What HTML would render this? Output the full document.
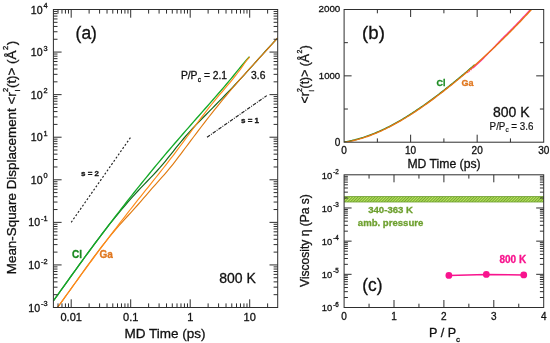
<!DOCTYPE html>
<html lang="en"><head><meta charset="utf-8"><title>MSD and viscosity</title>
<style>html,body{margin:0;padding:0;background:#fff}svg{display:block}</style></head>
<body>
<svg width="550" height="343" viewBox="0 0 550 343" font-family='&quot;Liberation Sans&quot;, Arial, sans-serif' fill="#111111">
<defs><pattern id="hatch" width="2" height="2" patternUnits="userSpaceOnUse" patternTransform="rotate(45)"><rect width="2" height="2" fill="#bbe860"/><rect width="0.85" height="2" fill="#6a9a2c"/></pattern><clipPath id="clipA"><rect x="53.4" y="9.5" width="224.3" height="298"/></clipPath><clipPath id="clipB"><rect x="344.1" y="9.5" width="199.6" height="132.7"/></clipPath></defs>
<rect width="550" height="343" fill="#ffffff"/>
<rect x="344.1" y="196.5" width="199.6" height="5.5" fill="url(#hatch)"/>
<path d="M344.1 196.5H543.7M344.1 202H543.7" stroke="#6e9e30" stroke-width="0.8" fill="none"/>
<g clip-path="url(#clipA)" fill="none" stroke-linejoin="round">
<path d="M53.3 301 L55.71 297.67 L58.11 294.35 L60.5 291.02 L62.88 287.69 L65.26 284.37 L67.63 281.04 L70.01 277.71 L72.38 274.39 L74.76 271.06 L77.14 267.73 L79.53 264.41 L81.93 261.08 L84.34 257.75 L86.76 254.43 L89.19 251.1 L91.64 247.77 L94.11 244.45 L96.6 241.12 L99.11 237.79 L101.64 234.47 L104.2 231.14 L106.79 227.82 L109.41 224.49 L112.06 221.16 L114.74 217.84 L117.45 214.51 L120.21 211.18 L123 207.86 L125.83 204.53 L128.71 201.2 L131.63 197.88 L134.61 194.55 L137.66 191.22 L140.77 187.9 L143.95 184.57 L147.17 181.24 L150.39 177.92 L153.58 174.59 L156.68 171.26 L159.66 167.94 L162.51 164.61 L165.28 161.28 L167.98 157.96 L170.63 154.63 L173.27 151.3 L175.91 147.98 L178.59 144.65 L181.31 141.32 L184.11 138 L187 134.67 L189.99 131.34 L193.07 128.02 L196.22 124.69 L199.43 121.36 L202.66 118.04 L205.92 114.71 L209.19 111.38 L212.45 108.06 L215.72 104.73 L218.98 101.41 L222.23 98.08 L225.46 94.75 L228.68 91.43 L231.86 88.1 L235.02 84.77 L238.14 81.45 L241.22 78.12 L244.26 74.79 L247.27 71.47 L250.26 68.14 L253.23 64.81 L256.2 61.49 L259.17 58.16 L262.16 54.83 L265.16 51.51 L268.18 48.18 L271.24 44.85 L274.34 41.53 L277.5 38.2" stroke="#156a1e" stroke-width="1.2"/>
<path d="M57.35 307.65 L59.87 304.24 L62.37 300.82 L64.84 297.41 L67.3 294 L69.74 290.58 L72.17 287.17 L74.59 283.76 L77.02 280.34 L79.44 276.93 L81.87 273.52 L84.31 270.1 L86.77 266.69 L89.24 263.28 L91.73 259.86 L94.26 256.45 L96.81 253.04 L99.4 249.62 L102.02 246.21 L104.69 242.8 L107.41 239.38 L110.18 235.97 L113.01 232.56 L115.92 229.14 L118.91 225.73 L121.97 222.32 L125.07 218.9 L128.18 215.49 L131.3 212.08 L134.39 208.66 L137.44 205.25 L140.43 201.84 L143.38 198.42 L146.3 195.01 L149.24 191.6 L152.2 188.18 L155.22 184.77 L158.28 181.36 L161.34 177.94 L164.36 174.53 L167.31 171.12 L170.16 167.71 L172.9 164.29 L175.57 160.88 L178.17 157.47 L180.73 154.05 L183.29 150.64 L185.84 147.23 L188.4 143.81 L190.96 140.4 L193.53 136.99 L196.1 133.57 L198.69 130.16 L201.3 126.75 L203.92 123.33 L206.56 119.92 L209.23 116.51 L211.92 113.09 L214.63 109.68 L217.37 106.27 L220.14 102.85 L222.94 99.44 L225.77 96.03 L228.63 92.61 L231.52 89.2 L234.45 85.79 L237.42 82.37 L240.42 78.96 L243.46 75.55 L246.53 72.13 L249.62 68.72 L252.73 65.31 L255.86 61.89 L258.99 58.48 L262.12 55.07 L265.24 51.65 L268.35 48.24 L271.44 44.83 L274.51 41.41 L277.54 38" stroke="#e07a10" stroke-width="1.15"/>
<path d="M53.3 301 L55.5 297.91 L57.69 294.82 L59.89 291.72 L62.1 288.63 L64.31 285.54 L66.53 282.45 L68.75 279.35 L70.98 276.26 L73.21 273.17 L75.45 270.08 L77.69 266.98 L79.94 263.89 L82.2 260.8 L84.46 257.71 L86.73 254.61 L89.01 251.52 L91.3 248.43 L93.59 245.34 L95.89 242.24 L98.2 239.15 L100.52 236.06 L102.84 232.97 L105.17 229.87 L107.52 226.78 L109.87 223.69 L112.23 220.6 L114.6 217.51 L116.98 214.41 L119.37 211.32 L121.77 208.23 L124.18 205.14 L126.6 202.04 L129.03 198.95 L131.47 195.86 L133.92 192.77 L136.39 189.67 L138.86 186.58 L141.35 183.49 L143.85 180.4 L146.36 177.3 L148.89 174.21 L151.42 171.12 L153.97 168.03 L156.54 164.93 L159.11 161.84 L161.7 158.75 L164.3 155.66 L166.92 152.56 L169.55 149.47 L172.19 146.38 L174.85 143.29 L177.52 140.19 L180.19 137.1 L182.88 134.01 L185.58 130.92 L188.28 127.83 L190.98 124.73 L193.7 121.64 L196.42 118.55 L199.14 115.46 L201.86 112.36 L204.58 109.27 L207.31 106.18 L210.03 103.09 L212.75 99.99 L215.47 96.9 L218.17 93.81 L220.87 90.72 L223.53 87.62 L226.17 84.53 L228.77 81.44 L231.33 78.35 L233.85 75.25 L236.35 72.16 L238.87 69.07 L241.42 65.98 L244.02 62.88 L246.7 59.79 L249.49 56.7" stroke="#14aa28" stroke-width="1.35"/>
<path d="M57.35 307.65 L59.64 304.48 L61.93 301.3 L64.23 298.13 L66.52 294.95 L68.82 291.78 L71.12 288.61 L73.42 285.43 L75.73 282.26 L78.04 279.08 L80.35 275.91 L82.67 272.74 L85 269.56 L87.33 266.39 L89.66 263.21 L92 260.04 L94.35 256.87 L96.7 253.69 L99.06 250.52 L101.43 247.34 L103.8 244.17 L106.19 240.99 L108.58 237.82 L110.98 234.65 L113.39 231.47 L115.81 228.3 L118.24 225.12 L120.68 221.95 L123.13 218.78 L125.59 215.6 L128.07 212.43 L130.55 209.25 L133.05 206.08 L135.56 202.91 L138.08 199.73 L140.61 196.56 L143.15 193.38 L145.69 190.21 L148.24 187.04 L150.78 183.86 L153.32 180.69 L155.86 177.51 L158.39 174.34 L160.9 171.17 L163.41 167.99 L165.91 164.82 L168.38 161.64 L170.84 158.47 L173.28 155.3 L175.69 152.12 L178.08 148.95 L180.44 145.77 L182.8 142.6 L185.14 139.43 L187.47 136.25 L189.8 133.08 L192.14 129.9 L194.48 126.73 L196.84 123.56 L199.21 120.38 L201.61 117.21 L204.03 114.03 L206.49 110.86 L208.98 107.68 L211.51 104.51 L214.09 101.34 L216.71 98.16 L219.38 94.99 L222.08 91.81 L224.78 88.64 L227.47 85.47 L230.13 82.29 L232.75 79.12 L235.31 75.94 L237.78 72.77 L240.15 69.6 L242.41 66.42 L244.55 63.25 L246.85 60.07 L249.79 56.9" stroke="#ff8a18" stroke-width="1.15"/>
</g>
<path d="M71.2 222.36L130.7 137.21" stroke="#222" stroke-width="1.15" stroke-dasharray="2 1.9" fill="none"/>
<path d="M207 137.3L266.8 95.6" stroke="#222" stroke-width="1.1" stroke-dasharray="3.6 1.2 1 1.2" fill="none"/>
<g clip-path="url(#clipB)" fill="none">
<path d="M343.8 142.02 L345.16 141.81 L346.53 141.59 L347.89 141.34 L349.25 141.08 L350.61 140.8 L351.98 140.51 L353.34 140.19 L354.7 139.87 L356.06 139.52 L357.43 139.16 L358.79 138.78 L360.15 138.39 L361.51 137.98 L362.88 137.56 L364.24 137.12 L365.6 136.66 L366.96 136.2 L368.33 135.71 L369.69 135.21 L371.05 134.7 L372.41 134.17 L373.78 133.63 L375.14 133.07 L376.5 132.5 L377.86 131.92 L379.23 131.32 L380.59 130.71 L381.95 130.08 L383.32 129.45 L384.68 128.8 L386.04 128.13 L387.4 127.46 L388.77 126.77 L390.13 126.07 L391.49 125.35 L392.85 124.63 L394.22 123.89 L395.58 123.14 L396.94 122.38 L398.3 121.61 L399.67 120.83 L401.03 120.04 L402.39 119.23 L403.75 118.42 L405.12 117.59 L406.48 116.75 L407.84 115.91 L409.2 115.05 L410.57 114.18 L411.93 113.31 L413.29 112.42 L414.65 111.52 L416.02 110.62 L417.38 109.7 L418.74 108.78 L420.11 107.85 L421.47 106.91 L422.83 105.96 L424.19 105 L425.56 104.04 L426.92 103.06 L428.28 102.08 L429.64 101.09 L431.01 100.09 L432.37 99.09 L433.73 98.08 L435.09 97.06 L436.46 96.03 L437.82 95 L439.18 93.96 L440.54 92.91 L441.91 91.86 L443.27 90.8 L444.63 89.74 L445.99 88.67 L447.36 87.59 L448.72 86.51 L450.08 85.42 L451.44 84.33 L452.81 83.23 L454.17 82.13 L455.53 81.02 L456.89 79.9 L458.26 78.78 L459.62 77.65 L460.98 76.51 L462.35 75.37 L463.71 74.22 L465.07 73.07 L466.43 71.91 L467.8 70.74 L469.16 69.57 L470.52 68.39 L471.88 67.21 L473.25 66.02 L474.61 64.82" stroke="#1a8a2a" stroke-width="1.4"/>
<path d="M467.33 72.81 L468.69 71.64 L470.05 70.46 L471.4 69.28 L472.76 68.09" stroke="#ff2ea0" stroke-width="1.4" stroke-dasharray="1.2 1" />
<path d="M472.76 68.09 L474.12 66.89 L475.48 65.69 L476.84 64.48 L478.19 63.27 L479.55 62.04 L480.89 60.8 L482.18 59.49 L483.46 58.18 L484.75 56.87 L486.04 55.54 L487.33 54.21 L488.62 52.88 L489.9 51.53 L491.2 50.19 L492.5 48.85 L493.8 47.5 L495.1 46.14 L496.4 44.78 L497.7 43.41 L499 42.03 L500.3 40.65 L501.61 39.26 L502.97 37.93 L504.34 36.58 L505.7 35.23 L507.06 33.88 L508.42 32.52 L509.79 31.15 L511.15 29.77 L512.51 28.38 L513.87 26.99 L515.24 25.59 L516.6 24.19 L517.96 22.78 L519.32 21.36 L520.69 19.93 L522.05 18.5 L523.41 17.05 L524.77 15.61 L526.14 14.15 L527.5 12.69 L528.86 11.22 L530.22 9.74 L531.59 8.25 L532.95 6.76" stroke="#ff2ea0" stroke-width="1.3"/>
<path d="M344.1 142.32 L345.46 142.11 L346.83 141.89 L348.19 141.64 L349.55 141.38 L350.91 141.1 L352.28 140.81 L353.64 140.49 L355 140.17 L356.36 139.82 L357.73 139.46 L359.09 139.08 L360.45 138.69 L361.81 138.28 L363.18 137.86 L364.54 137.42 L365.9 136.96 L367.26 136.5 L368.63 136.01 L369.99 135.51 L371.35 135 L372.71 134.47 L374.08 133.93 L375.44 133.37 L376.8 132.8 L378.16 132.22 L379.53 131.62 L380.89 131.01 L382.25 130.38 L383.62 129.75 L384.98 129.1 L386.34 128.43 L387.7 127.76 L389.07 127.07 L390.43 126.37 L391.79 125.65 L393.15 124.93 L394.52 124.19 L395.88 123.44 L397.24 122.68 L398.6 121.91 L399.97 121.13 L401.33 120.34 L402.69 119.53 L404.05 118.72 L405.42 117.89 L406.78 117.05 L408.14 116.21 L409.5 115.35 L410.87 114.48 L412.23 113.61 L413.59 112.72 L414.95 111.82 L416.32 110.92 L417.68 110 L419.04 109.08 L420.41 108.15 L421.77 107.21 L423.13 106.26 L424.49 105.3 L425.86 104.34 L427.22 103.36 L428.58 102.38 L429.94 101.39 L431.31 100.39 L432.67 99.39 L434.03 98.38 L435.39 97.36 L436.76 96.33 L438.12 95.3 L439.48 94.26 L440.84 93.21 L442.21 92.16 L443.57 91.1 L444.93 90.04 L446.29 88.97 L447.66 87.89 L449.02 86.81 L450.38 85.72 L451.74 84.63 L453.11 83.53 L454.47 82.43 L455.83 81.32 L457.19 80.2 L458.56 79.08 L459.92 77.95 L461.28 76.81 L462.65 75.67 L464.01 74.52 L465.37 73.37 L466.73 72.21 L468.1 71.04 L469.46 69.87 L470.82 68.69 L472.18 67.51 L473.55 66.32 L474.91 65.12 L476.27 63.92 L477.63 62.71 L479 61.49 L480.36 60.27 L481.72 59.04 L483.08 57.8 L484.45 56.56 L485.81 55.31 L487.17 54.06 L488.53 52.8 L489.9 51.53 L491.26 50.25 L492.62 48.97 L493.98 47.68 L495.35 46.39 L496.71 45.09 L498.07 43.78 L499.44 42.46 L500.8 41.14 L502.16 39.81 L503.52 38.48 L504.89 37.13 L506.25 35.78 L507.61 34.43 L508.97 33.07 L510.34 31.7 L511.7 30.32 L513.06 28.93 L514.42 27.54 L515.79 26.14 L517.15 24.74 L518.51 23.33 L519.87 21.91 L521.24 20.48 L522.6 19.05 L523.96 17.6 L525.32 16.16 L526.69 14.7 L528.05 13.24 L529.41 11.77 L530.77 10.29 L532.14 8.8 L533.5 7.31" stroke="#e87614" stroke-width="1.35"/>
</g>
<path d="M448.89 275.4 L486.32 274.4 L523.74 274.9" stroke="#f8148e" stroke-width="1.5" fill="none"/>
<circle cx="448.89" cy="275.4" r="3.4" fill="#f8148e"/>
<circle cx="486.32" cy="274.4" r="3.4" fill="#f8148e"/>
<circle cx="523.74" cy="274.9" r="3.4" fill="#f8148e"/>
<g stroke="#2e2e2e" stroke-width="1" fill="none" shape-rendering="auto">
<rect x="53.4" y="9.5" width="224.3" height="298"/>
<rect x="344.1" y="9.5" width="199.6" height="132.7"/>
<rect x="344.1" y="174.8" width="199.6" height="132.7"/>
<path d="M58 307.5L58 303.4M58 9.5L58 13.6M61.98 307.5L61.98 303.4M61.98 9.5L61.98 13.6M65.43 307.5L65.43 303.4M65.43 9.5L65.43 13.6M68.48 307.5L68.48 303.4M68.48 9.5L68.48 13.6M71.2 307.5L71.2 299.3M71.2 9.5L71.2 17.7M89.11 307.5L89.11 303.4M89.11 9.5L89.11 13.6M99.59 307.5L99.59 303.4M99.59 9.5L99.59 13.6M107.02 307.5L107.02 303.4M107.02 9.5L107.02 13.6M112.79 307.5L112.79 303.4M112.79 9.5L112.79 13.6M117.5 307.5L117.5 303.4M117.5 9.5L117.5 13.6M121.48 307.5L121.48 303.4M121.48 9.5L121.48 13.6M124.93 307.5L124.93 303.4M124.93 9.5L124.93 13.6M127.98 307.5L127.98 303.4M127.98 9.5L127.98 13.6M130.7 307.5L130.7 299.3M130.7 9.5L130.7 17.7M148.61 307.5L148.61 303.4M148.61 9.5L148.61 13.6M159.09 307.5L159.09 303.4M159.09 9.5L159.09 13.6M166.52 307.5L166.52 303.4M166.52 9.5L166.52 13.6M172.29 307.5L172.29 303.4M172.29 9.5L172.29 13.6M177 307.5L177 303.4M177 9.5L177 13.6M180.98 307.5L180.98 303.4M180.98 9.5L180.98 13.6M184.43 307.5L184.43 303.4M184.43 9.5L184.43 13.6M187.48 307.5L187.48 303.4M187.48 9.5L187.48 13.6M190.2 307.5L190.2 299.3M190.2 9.5L190.2 17.7M208.11 307.5L208.11 303.4M208.11 9.5L208.11 13.6M218.59 307.5L218.59 303.4M218.59 9.5L218.59 13.6M226.02 307.5L226.02 303.4M226.02 9.5L226.02 13.6M231.79 307.5L231.79 303.4M231.79 9.5L231.79 13.6M236.5 307.5L236.5 303.4M236.5 9.5L236.5 13.6M240.48 307.5L240.48 303.4M240.48 9.5L240.48 13.6M243.93 307.5L243.93 303.4M243.93 9.5L243.93 13.6M246.98 307.5L246.98 303.4M246.98 9.5L246.98 13.6M249.7 307.5L249.7 299.3M249.7 9.5L249.7 17.7M267.61 307.5L267.61 303.4M267.61 9.5L267.61 13.6M53.4 294.68L57.5 294.68M277.7 294.68L273.6 294.68M53.4 287.19L57.5 287.19M277.7 287.19L273.6 287.19M53.4 281.87L57.5 281.87M277.7 281.87L273.6 281.87M53.4 277.74L57.5 277.74M277.7 277.74L273.6 277.74M53.4 274.37L57.5 274.37M277.7 274.37L273.6 274.37M53.4 271.52L57.5 271.52M277.7 271.52L273.6 271.52M53.4 269.05L57.5 269.05M277.7 269.05L273.6 269.05M53.4 266.88L57.5 266.88M277.7 266.88L273.6 266.88M53.4 264.93L61.6 264.93M277.7 264.93L269.5 264.93M53.4 252.11L57.5 252.11M277.7 252.11L273.6 252.11M53.4 244.62L57.5 244.62M277.7 244.62L273.6 244.62M53.4 239.3L57.5 239.3M277.7 239.3L273.6 239.3M53.4 235.17L57.5 235.17M277.7 235.17L273.6 235.17M53.4 231.8L57.5 231.8M277.7 231.8L273.6 231.8M53.4 228.95L57.5 228.95M277.7 228.95L273.6 228.95M53.4 226.48L57.5 226.48M277.7 226.48L273.6 226.48M53.4 224.31L57.5 224.31M277.7 224.31L273.6 224.31M53.4 222.36L61.6 222.36M277.7 222.36L269.5 222.36M53.4 209.54L57.5 209.54M277.7 209.54L273.6 209.54M53.4 202.05L57.5 202.05M277.7 202.05L273.6 202.05M53.4 196.73L57.5 196.73M277.7 196.73L273.6 196.73M53.4 192.6L57.5 192.6M277.7 192.6L273.6 192.6M53.4 189.23L57.5 189.23M277.7 189.23L273.6 189.23M53.4 186.38L57.5 186.38M277.7 186.38L273.6 186.38M53.4 183.91L57.5 183.91M277.7 183.91L273.6 183.91M53.4 181.73L57.5 181.73M277.7 181.73L273.6 181.73M53.4 179.79L61.6 179.79M277.7 179.79L269.5 179.79M53.4 166.97L57.5 166.97M277.7 166.97L273.6 166.97M53.4 159.47L57.5 159.47M277.7 159.47L273.6 159.47M53.4 154.16L57.5 154.16M277.7 154.16L273.6 154.16M53.4 150.03L57.5 150.03M277.7 150.03L273.6 150.03M53.4 146.66L57.5 146.66M277.7 146.66L273.6 146.66M53.4 143.81L57.5 143.81M277.7 143.81L273.6 143.81M53.4 141.34L57.5 141.34M277.7 141.34L273.6 141.34M53.4 139.16L57.5 139.16M277.7 139.16L273.6 139.16M53.4 137.21L61.6 137.21M277.7 137.21L269.5 137.21M53.4 124.4L57.5 124.4M277.7 124.4L273.6 124.4M53.4 116.9L57.5 116.9M277.7 116.9L273.6 116.9M53.4 111.58L57.5 111.58M277.7 111.58L273.6 111.58M53.4 107.46L57.5 107.46M277.7 107.46L273.6 107.46M53.4 104.09L57.5 104.09M277.7 104.09L273.6 104.09M53.4 101.24L57.5 101.24M277.7 101.24L273.6 101.24M53.4 98.77L57.5 98.77M277.7 98.77L273.6 98.77M53.4 96.59L57.5 96.59M277.7 96.59L273.6 96.59M53.4 94.64L61.6 94.64M277.7 94.64L269.5 94.64M53.4 81.83L57.5 81.83M277.7 81.83L273.6 81.83M53.4 74.33L57.5 74.33M277.7 74.33L273.6 74.33M53.4 69.01L57.5 69.01M277.7 69.01L273.6 69.01M53.4 64.89L57.5 64.89M277.7 64.89L273.6 64.89M53.4 61.52L57.5 61.52M277.7 61.52L273.6 61.52M53.4 58.67L57.5 58.67M277.7 58.67L273.6 58.67M53.4 56.2L57.5 56.2M277.7 56.2L273.6 56.2M53.4 54.02L57.5 54.02M277.7 54.02L273.6 54.02M53.4 52.07L61.6 52.07M277.7 52.07L269.5 52.07M53.4 39.26L57.5 39.26M277.7 39.26L273.6 39.26M53.4 31.76L57.5 31.76M277.7 31.76L273.6 31.76M53.4 26.44L57.5 26.44M277.7 26.44L273.6 26.44M53.4 22.32L57.5 22.32M277.7 22.32L273.6 22.32M53.4 18.94L57.5 18.94M277.7 18.94L273.6 18.94M53.4 16.09L57.5 16.09M277.7 16.09L273.6 16.09M53.4 13.63L57.5 13.63M277.7 13.63L273.6 13.63M53.4 11.45L57.5 11.45M277.7 11.45L273.6 11.45M377.37 142.2L377.37 138.4M377.37 9.5L377.37 13.3M410.63 142.2L410.63 134.7M410.63 9.5L410.63 17M443.9 142.2L443.9 138.4M443.9 9.5L443.9 13.3M477.17 142.2L477.17 134.7M477.17 9.5L477.17 17M510.43 142.2L510.43 138.4M510.43 9.5L510.43 13.3M344.1 109.02L347.9 109.02M543.7 109.02L539.9 109.02M344.1 75.85L351.6 75.85M543.7 75.85L536.2 75.85M344.1 42.67L347.9 42.67M543.7 42.67L539.9 42.67M369.05 307.5L369.05 303.7M369.05 174.8L369.05 178.6M394 307.5L394 300M394 174.8L394 182.3M418.95 307.5L418.95 303.7M418.95 174.8L418.95 178.6M443.9 307.5L443.9 300M443.9 174.8L443.9 182.3M468.85 307.5L468.85 303.7M468.85 174.8L468.85 178.6M493.8 307.5L493.8 300M493.8 174.8L493.8 182.3M518.75 307.5L518.75 303.7M518.75 174.8L518.75 178.6M344.1 297.51L347.9 297.51M543.7 297.51L539.9 297.51M344.1 291.67L347.9 291.67M543.7 291.67L539.9 291.67M344.1 287.53L347.9 287.53M543.7 287.53L539.9 287.53M344.1 284.31L347.9 284.31M543.7 284.31L539.9 284.31M344.1 281.68L347.9 281.68M543.7 281.68L539.9 281.68M344.1 279.46L347.9 279.46M543.7 279.46L539.9 279.46M344.1 277.54L347.9 277.54M543.7 277.54L539.9 277.54M344.1 275.84L347.9 275.84M543.7 275.84L539.9 275.84M344.1 274.32L351.6 274.32M543.7 274.32L536.2 274.32M344.1 264.34L347.9 264.34M543.7 264.34L539.9 264.34M344.1 258.5L347.9 258.5M543.7 258.5L539.9 258.5M344.1 254.35L347.9 254.35M543.7 254.35L539.9 254.35M344.1 251.14L347.9 251.14M543.7 251.14L539.9 251.14M344.1 248.51L347.9 248.51M543.7 248.51L539.9 248.51M344.1 246.29L347.9 246.29M543.7 246.29L539.9 246.29M344.1 244.36L347.9 244.36M543.7 244.36L539.9 244.36M344.1 242.67L347.9 242.67M543.7 242.67L539.9 242.67M344.1 241.15L351.6 241.15M543.7 241.15L536.2 241.15M344.1 231.16L347.9 231.16M543.7 231.16L539.9 231.16M344.1 225.32L347.9 225.32M543.7 225.32L539.9 225.32M344.1 221.18L347.9 221.18M543.7 221.18L539.9 221.18M344.1 217.96L347.9 217.96M543.7 217.96L539.9 217.96M344.1 215.33L347.9 215.33M543.7 215.33L539.9 215.33M344.1 213.11L347.9 213.11M543.7 213.11L539.9 213.11M344.1 211.19L347.9 211.19M543.7 211.19L539.9 211.19M344.1 209.49L347.9 209.49M543.7 209.49L539.9 209.49M344.1 207.98L351.6 207.98M543.7 207.98L536.2 207.98M344.1 197.99L347.9 197.99M543.7 197.99L539.9 197.99M344.1 192.15L347.9 192.15M543.7 192.15L539.9 192.15M344.1 188L347.9 188M543.7 188L539.9 188M344.1 184.79L347.9 184.79M543.7 184.79L539.9 184.79M344.1 182.16L347.9 182.16M543.7 182.16L539.9 182.16M344.1 179.94L347.9 179.94M543.7 179.94L539.9 179.94M344.1 178.01L347.9 178.01M543.7 178.01L539.9 178.01M344.1 176.32L347.9 176.32M543.7 176.32L539.9 176.32" stroke-width="1"/>
</g>
<g stroke="#111111" stroke-width="0.3">
<text x="47.6" y="311.5" font-size="10.6" text-anchor="end">10<tspan font-size="7.4" dy="-5.3" dx="0.9">-3</tspan></text>
<text x="47.6" y="268.93" font-size="10.6" text-anchor="end">10<tspan font-size="7.4" dy="-5.3" dx="0.9">-2</tspan></text>
<text x="47.6" y="226.36" font-size="10.6" text-anchor="end">10<tspan font-size="7.4" dy="-5.3" dx="0.9">-1</tspan></text>
<text x="47.6" y="183.79" font-size="10.6" text-anchor="end">10<tspan font-size="7.4" dy="-5.3" dx="0.9">0</tspan></text>
<text x="47.6" y="141.21" font-size="10.6" text-anchor="end">10<tspan font-size="7.4" dy="-5.3" dx="0.9">1</tspan></text>
<text x="47.6" y="98.64" font-size="10.6" text-anchor="end">10<tspan font-size="7.4" dy="-5.3" dx="0.9">2</tspan></text>
<text x="47.6" y="56.07" font-size="10.6" text-anchor="end">10<tspan font-size="7.4" dy="-5.3" dx="0.9">3</tspan></text>
<text x="47.6" y="13.5" font-size="10.6" text-anchor="end">10<tspan font-size="7.4" dy="-5.3" dx="0.9">4</tspan></text>
<text x="71.2" y="320.8" font-size="11" text-anchor="middle">0.01</text>
<text x="130.7" y="320.8" font-size="11" text-anchor="middle">0.1</text>
<text x="190.2" y="320.8" font-size="11" text-anchor="middle">1</text>
<text x="249.7" y="320.8" font-size="11" text-anchor="middle">10</text>
<text x="165" y="337.6" font-size="13.5" text-anchor="middle">MD Time (ps)</text>
<text transform="translate(15.7 274.2) rotate(-90)" font-size="13.4">Mean-Square Displacement &lt;r<tspan font-size="7.5" dy="-8" dx="0.3">2</tspan><tspan font-size="7.5" dy="12.5" dx="-3.6">i</tspan><tspan dy="-4.5" dx="1.6">(t)&gt; (Å</tspan><tspan font-size="7.5" dy="-8" dx="0.6">2</tspan><tspan dy="8" dx="0.4">)</tspan></text>
<text x="75.6" y="39.2" font-size="18" textLength="21.3" lengthAdjust="spacingAndGlyphs">(a)</text>
<text x="219.2" y="283.1" font-size="14">800 K</text>
<text x="81" y="176.3" font-size="8" font-weight="bold">s = 2</text>
<text x="241" y="123.3" font-size="8" font-weight="bold">s = 1</text>
<text x="72" y="258.3" font-size="10" font-weight="bold" fill="#1a8a20" stroke="#1a8a20">Cl</text>
<text x="99.5" y="258.3" font-size="10" font-weight="bold" fill="#e07820" stroke="#e07820">Ga</text>
<text x="227.1" y="78.8" font-size="10.3" text-anchor="end">P/P<tspan font-size="6.5" dy="3.2" dx="0.3">c</tspan><tspan dy="-3.2"> = 2.1</tspan></text>
<text x="251.1" y="78.8" font-size="10.3">3.6</text>
<text x="340.3" y="12.3" font-size="9.8" text-anchor="end">2000</text>
<text x="340.2" y="79.25" font-size="9.6" text-anchor="end">1000</text>
<text x="340.3" y="146" font-size="10" text-anchor="end">0</text>
<text x="344.1" y="153.8" font-size="10" text-anchor="middle">0</text>
<text x="410.63" y="153.8" font-size="10" text-anchor="middle">10</text>
<text x="477.17" y="153.8" font-size="10" text-anchor="middle">20</text>
<text x="543.7" y="153.8" font-size="10" text-anchor="middle">30</text>
<text x="444" y="168.2" font-size="12.2" text-anchor="middle">MD Time (ps)</text>
<text transform="translate(309.4 103.5) rotate(-90)" font-size="12.3">&lt;r<tspan font-size="7" dy="-7.2" dx="0.3">2</tspan><tspan font-size="7" dy="11.4" dx="-3.4">i</tspan><tspan dy="-4.2" dx="1.4">(t)&gt; (Å</tspan><tspan font-size="7" dy="-7.2" dx="0.5">2</tspan><tspan dy="7.2" dx="0.3">)</tspan></text>
<text x="362.1" y="38.9" font-size="18" textLength="22.8" lengthAdjust="spacingAndGlyphs">(b)</text>
<text x="493" y="117" font-size="14">800 K</text>
<text transform="translate(489.6 129.8) scale(0.86 1)" font-size="11.4" stroke-width="0.2">P/P<tspan font-size="7.5" dy="2.4">c</tspan><tspan dy="-2.4"> = 3.6</tspan></text>
<text x="436.6" y="85.8" font-size="9" font-weight="bold" fill="#1a8a20" stroke="#1a8a20">Cl</text>
<text x="461.5" y="85.8" font-size="9" font-weight="bold" fill="#e07820" stroke="#e07820">Ga</text>
<text x="338.8" y="311.3" font-size="9.4" text-anchor="end">10<tspan font-size="6.3" dy="-4.7" dx="0.9">-6</tspan></text>
<text x="338.8" y="278.12" font-size="9.4" text-anchor="end">10<tspan font-size="6.3" dy="-4.7" dx="0.9">-5</tspan></text>
<text x="338.8" y="244.95" font-size="9.4" text-anchor="end">10<tspan font-size="6.3" dy="-4.7" dx="0.9">-4</tspan></text>
<text x="338.8" y="211.78" font-size="9.4" text-anchor="end">10<tspan font-size="6.3" dy="-4.7" dx="0.9">-3</tspan></text>
<text x="338.8" y="178.6" font-size="9.4" text-anchor="end">10<tspan font-size="6.3" dy="-4.7" dx="0.9">-2</tspan></text>
<text x="344.1" y="319.6" font-size="10" text-anchor="middle">0</text>
<text x="394" y="319.6" font-size="10" text-anchor="middle">1</text>
<text x="443.9" y="319.6" font-size="10" text-anchor="middle">2</text>
<text x="493.8" y="319.6" font-size="10" text-anchor="middle">3</text>
<text x="543.7" y="319.6" font-size="10" text-anchor="middle">4</text>
<text x="429" y="337" font-size="12.6">P / P<tspan font-size="8" dy="4.5">c</tspan></text>
<text transform="translate(309.4 286.9) rotate(-90)" font-size="12.3" textLength="92.6" lengthAdjust="spacingAndGlyphs">Viscosity η (Pa s)</text>
<text x="362.3" y="291.3" font-size="18" textLength="20.2" lengthAdjust="spacingAndGlyphs">(c)</text>
<text x="368.2" y="213" font-size="9.6" font-weight="bold" fill="#6ea030" stroke="#6ea030">340-363 K</text>
<text x="357.8" y="225.6" font-size="9.6" font-weight="bold" fill="#6ea030" stroke="#6ea030">amb. pressure</text>
<text x="499.5" y="262.8" font-size="10" font-weight="bold" fill="#f8148e" stroke="#f8148e">800 K</text>
</g>
</svg>
</body></html>
